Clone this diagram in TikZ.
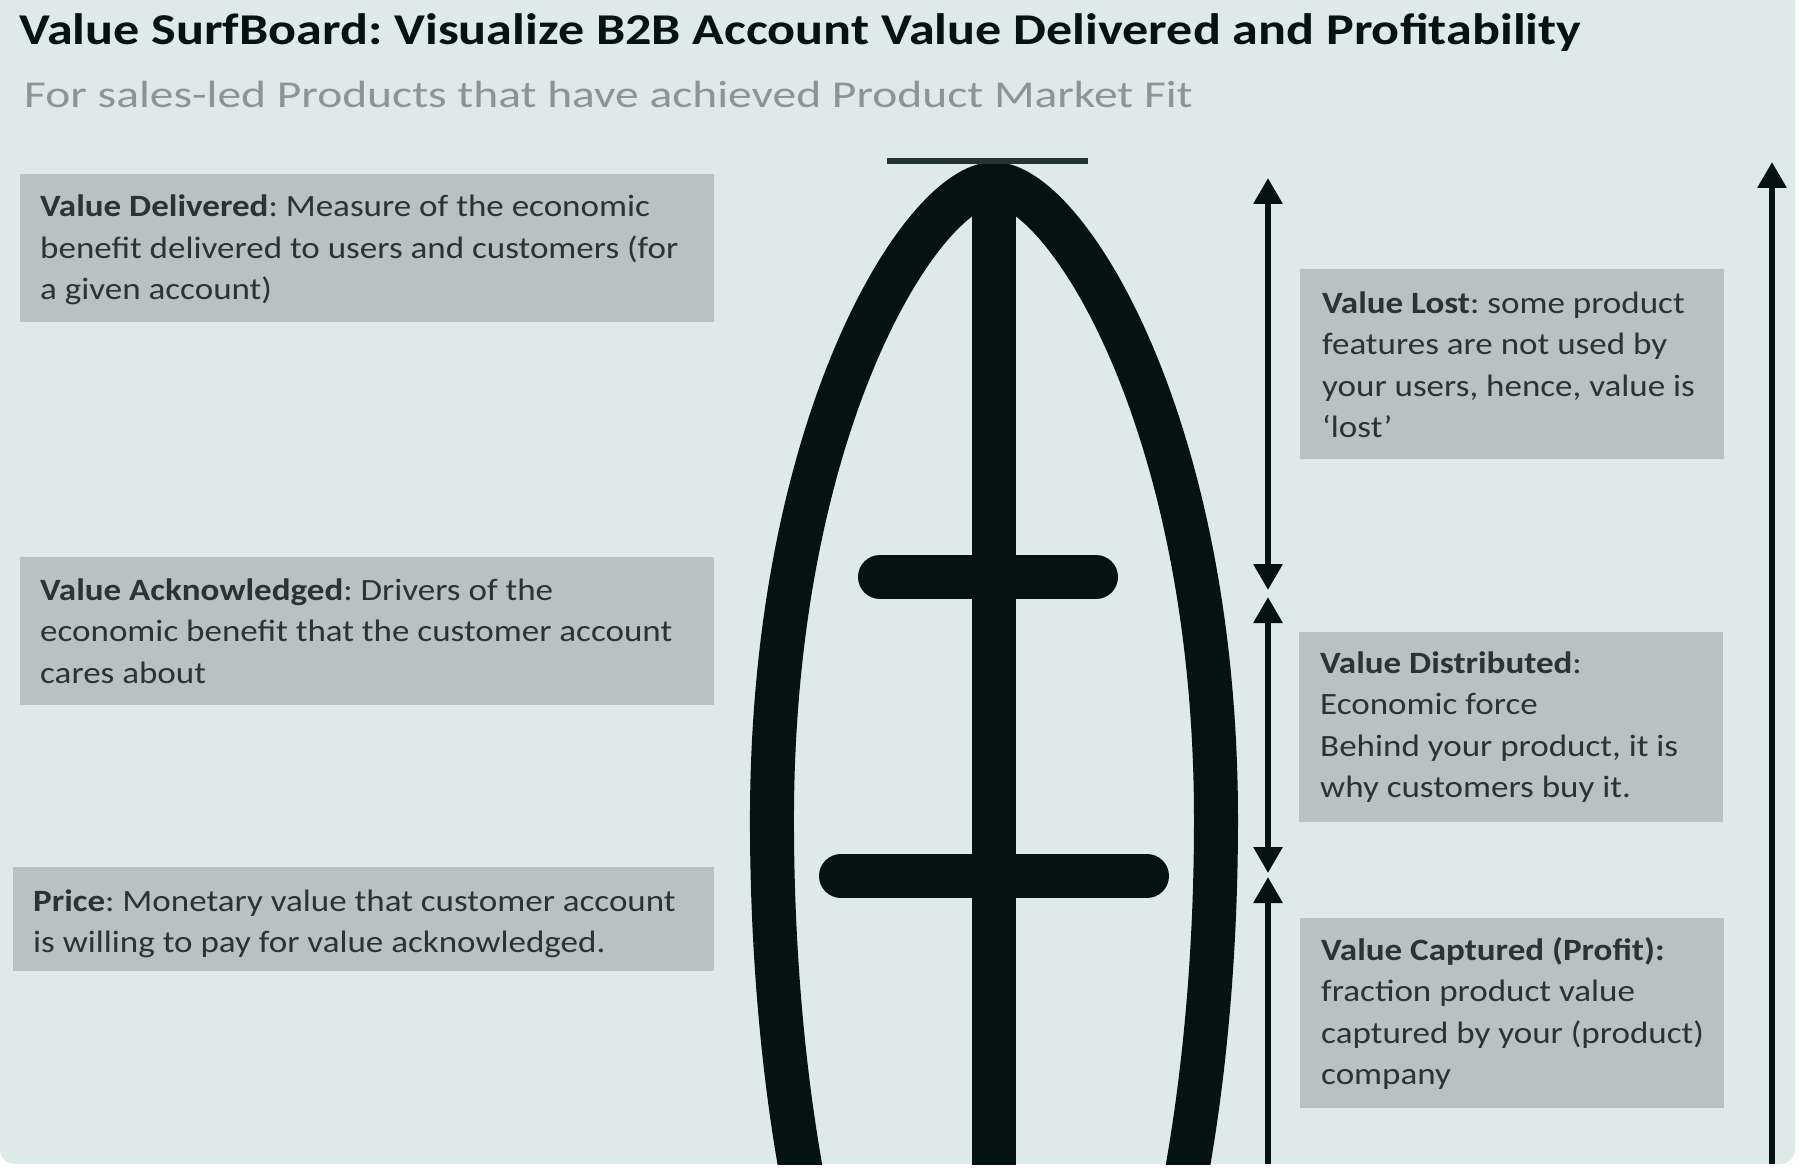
\documentclass[tikz,border=0pt]{standalone}
\usepackage{fontspec}
\usepackage{graphicx}
\setmainfont{Carlito}
\usetikzlibrary{arrows.meta}
\definecolor{bgc}{HTML}{DDEAE9}
\definecolor{boxc}{HTML}{B8C2C1}
\definecolor{ink}{HTML}{041212}
\definecolor{txtc}{HTML}{2A3434}
\definecolor{subc}{HTML}{8A9595}
\definecolor{thinc}{HTML}{233232}
\newcommand{\boxlines}[2]{\scalebox{1.13}[1]{\parbox[t]{#1}{\frenchspacing #2}}}
\begin{document}
\frenchspacing
\begin{tikzpicture}[x=1pt,y=-1pt,
  infobox/.style={fill=boxc,draw=none,inner sep=0pt,anchor=north west},
  txt/.style={inner sep=0pt,anchor=base west,text=txtc,font=\fontsize{31}{41.5}\selectfont},
  board/.style={draw=ink,line width=44pt},
  measure/.style={draw=ink,line width=6pt,{Triangle[width=28pt,length=26pt]}-{Triangle[width=28pt,length=26pt]}},
  measureup/.style={draw=ink,line width=6pt,-{Triangle[width=28pt,length=26pt]}}]
\useasboundingbox (0,0) rectangle (1800,1169);
\fill[white] (0,0) rectangle (1800,1169);
\fill[bgc,rounded corners=15pt] (0,-20) rectangle (1795,1164);
% title
\node[inner sep=0pt,anchor=base west,font=\fontsize{44}{50}\selectfont\bfseries,text=ink] (title) at (19,45) {\scalebox{1.185}[1]{Value SurfBoard: Visualize B2B Account Value Delivered and Profitability}};
\node[inner sep=0pt,anchor=base west,font=\fontsize{38}{44}\selectfont,text=subc] (subtitle) at (24,108) {\scalebox{1.25}[1]{For sales-led Products that have achieved Product Market Fit}};
% left boxes
\node[infobox,minimum width=694pt,minimum height=148pt] (vdbox) at (20,174) {};
\node[txt] (vdtxt) at (40,217) {\boxlines{600pt}{\textbf{Value Delivered}: Measure of the economic\\benefit delivered to users and customers (for\\a given account)}};
\node[infobox,minimum width=694pt,minimum height=148pt] (vabox) at (20,557) {};
\node[txt] (vatxt) at (40,600) {\boxlines{600pt}{\textbf{Value Acknowledged}: Drivers of the\\economic benefit that the customer account\\cares about}};
\node[infobox,minimum width=701pt,minimum height=104pt] (prbox) at (13,867) {};
\node[txt] (prtxt) at (33,911) {\boxlines{600pt}{\textbf{Price}: Monetary value that customer account\\is willing to pay for value acknowledged.}};
% right boxes
\node[infobox,minimum width=424pt,minimum height=190pt] (vlbox) at (1300,269) {};
\node[txt] (vltxt) at (1322,313) {\boxlines{350pt}{\textbf{Value Lost}: some product\\features are not used by\\your users, hence, value is\\‘lost’}};
\node[infobox,minimum width=424pt,minimum height=190pt] (vdsbox) at (1299,632) {};
\node[txt] (vdstxt) at (1320,673) {\boxlines{350pt}{\textbf{Value Distributed}:\\Economic force\\Behind your product, it is\\why customers buy it.}};
\node[infobox,minimum width=424pt,minimum height=190pt] (vcbox) at (1300,918) {};
\node[txt] (vctxt) at (1321,960) {\boxlines{350pt}{\textbf{Value Captured (Profit):}\\fraction product value\\captured by your (product)\\company}};
% surfboard
\begin{scope}
\clip (0,0) rectangle (1800,1164);
\coordinate (tailL) at (823.9,1276.4);
\coordinate (nose) at (994,184);
\coordinate (railL) at (772,820);
\coordinate (railR) at (1216,820);
\draw[board] (tailL) arc[start angle=220, end angle=180, x radius=222pt, y radius=710pt]
  .. controls (772,420) and (924,184) .. (nose)
  .. controls (1064,184) and (1216,420) .. (railR)
  arc[start angle=0, end angle=-40, x radius=222pt, y radius=710pt];
\coordinate (stemtop) at (994,176);
\coordinate (stembot) at (994,1170);
\draw[board] (stemtop) -- (stembot);
\end{scope}
\coordinate (nosel) at (887,161);
\coordinate (noser) at (1088,161);
\draw[thinc,line width=6pt] (nosel) -- (noser);
\coordinate (bar1l) at (880,577);
\coordinate (bar1r) at (1096,577);
\draw[board,line cap=round] (bar1l) -- (bar1r);
\coordinate (bar2l) at (841,876);
\coordinate (bar2r) at (1147,876);
\draw[board,line cap=round] (bar2l) -- (bar2r);
% measures
\coordinate (m1a) at (1268,178);
\coordinate (m1b) at (1268,590);
\coordinate (m2a) at (1268,597);
\coordinate (m2b) at (1268,873);
\coordinate (m3a) at (1268,1164);
\coordinate (m3b) at (1268,877);
\coordinate (m4a) at (1772,1164);
\coordinate (m4b) at (1772,162);
\draw[measure] (m1a) -- (m1b);
\draw[measure] (m2a) -- (m2b);
\draw[measureup] (m3a) -- (m3b);
\draw[measureup] (m4a) -- (m4b);
\end{tikzpicture}
\end{document}
